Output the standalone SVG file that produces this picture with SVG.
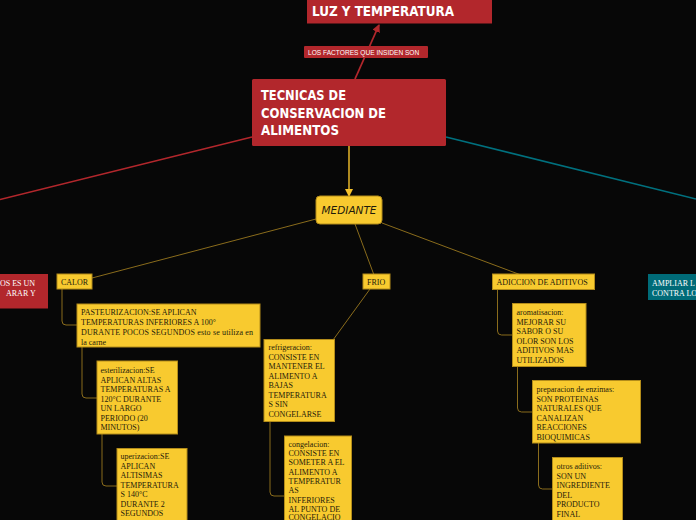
<svg xmlns="http://www.w3.org/2000/svg" width="696" height="520" viewBox="0 0 696 520">
<style>
.bg{fill:#070707}
.red{fill:#b2272c}
.teal{fill:#006b78}
.ybox{fill:#f8ca2f;stroke:#b38c1a;stroke-width:1}
.title{font-family:"DejaVu Sans",Verdana,sans-serif;font-weight:bold;font-size:13.5px;fill:#ffffff}
.lbl{font-family:"Liberation Sans",Arial,sans-serif;font-size:6.6px;fill:#ffffff}
.t{font-family:"Liberation Serif","Times New Roman",serif;font-size:8px;fill:#1e1a0a}
.w{font-family:"Liberation Serif","Times New Roman",serif;font-size:8px;fill:#ffffff}
.med{font-family:"DejaVu Sans",sans-serif;font-style:italic;font-size:10.5px;fill:#1e1a0a}
.conn{fill:none;stroke:#8a6c1c;stroke-width:1}
</style>
<defs>
<marker id="ar" markerWidth="8" markerHeight="8" refX="7" refY="4" orient="auto" markerUnits="userSpaceOnUse">
<path d="M0,0 L8,4 L0,8 Z" fill="#b2272c"/>
</marker>
<marker id="ay" markerWidth="8" markerHeight="8" refX="7" refY="4" orient="auto" markerUnits="userSpaceOnUse">
<path d="M0,0 L8,4 L0,8 Z" fill="#f5c22b"/>
</marker>
</defs>
<rect class="bg" x="0" y="0" width="696" height="520"/>

<g id="connectors">
<line x1="252" y1="137" x2="0" y2="199.5" stroke="#b2272c" stroke-width="1.6"/>
<line x1="446" y1="137" x2="696" y2="199" stroke="#00707e" stroke-width="1.6"/>
<line x1="355" y1="79" x2="379" y2="25" stroke="#b2272c" stroke-width="1.8" marker-end="url(#ar)"/>
<line x1="349" y1="146" x2="349" y2="196" stroke="#f5c22b" stroke-width="1.4" marker-end="url(#ay)"/>
<line class="conn" x1="316" y1="219" x2="92" y2="278"/>
<line class="conn" x1="355" y1="224" x2="374" y2="275"/>
<line class="conn" x1="382" y1="223" x2="521" y2="275"/>
<line class="conn" x1="370" y1="289" x2="333" y2="340"/>
<path class="conn" d="M62,289 V321 Q62,325 66,325 H77"/>
<path class="conn" d="M82,347 V394 Q82,398 86,398 H97"/>
<path class="conn" d="M102,434 V482 Q102,486 106,486 H117"/>
<path class="conn" d="M270,421 V492 Q270,496 274,496 H284"/>
<path class="conn" d="M497.5,290 V331 Q497.5,335 501.5,335 H512"/>
<path class="conn" d="M517.5,367 V408 Q517.5,412 521.5,412 H532"/>
<path class="conn" d="M538.5,443 V485 Q538.5,489 542.5,489 H552"/>
</g>

<g id="top-node">
<rect class="red" x="307" y="-10" width="185" height="33.5"/>
<text class="title" x="312" y="16" textLength="142" lengthAdjust="spacingAndGlyphs">LUZ Y TEMPERATURA</text>
</g>

<g id="label-factores">
<rect class="red" x="304" y="46" width="124" height="12" rx="1"/>
<text class="lbl" x="308" y="54.5">LOS FACTORES QUE INSIDEN SON</text>
</g>

<g id="central">
<rect class="red" x="252" y="79" width="194" height="67" rx="1.5"/>
<text class="title" x="261" y="100" textLength="85" lengthAdjust="spacingAndGlyphs">TECNICAS DE</text>
<text class="title" x="261" y="118" textLength="125" lengthAdjust="spacingAndGlyphs">CONSERVACION DE</text>
<text class="title" x="261" y="135" textLength="78" lengthAdjust="spacingAndGlyphs">ALIMENTOS</text>
</g>

<g id="mediante">
<rect x="316" y="196" width="66" height="28" rx="4" fill="#f8ca2f" stroke="#b38c1a"/>
<text class="med" x="349" y="213.5" text-anchor="middle">MEDIANTE</text>
</g>

<g id="left-node">
<rect class="red" x="-5" y="274" width="53" height="34.5"/>
<text class="w" x="0" y="286">OS ES UN</text>
<text class="w" x="6" y="296">ARAR Y</text>
</g>

<g id="right-node">
<rect class="teal" x="648" y="274" width="60" height="26"/>
<text class="w" x="652" y="286">AMPLIAR L</text>
<text class="w" x="652" y="296">CONTRA LO</text>
</g>

<g id="calor">
<rect class="ybox" x="57" y="274" width="35" height="15"/>
<text class="t" x="61" y="285">CALOR</text>
</g>

<g id="frio">
<rect class="ybox" x="363" y="274" width="27" height="15"/>
<text class="t" x="367" y="285">FRIO</text>
</g>

<g id="adiccion">
<rect class="ybox" x="492.5" y="274" width="102" height="15.5"/>
<text class="t" x="496.5" y="285">ADICCION DE ADITIVOS</text>
</g>

<g id="pasteurizacion">
<rect class="ybox" x="77" y="304" width="183" height="43"/>
<text class="t" x="81" y="315">PASTEURIZACION:SE APLICAN</text>
<text class="t" x="81" y="325">TEMPERATURAS INFERIORES A 100°</text>
<text class="t" x="81" y="335" textLength="172">DURANTE POCOS SEGUNDOS esto se utiliza en</text>
<text class="t" x="81" y="344.5">la carne</text>
</g>

<g id="esterilizacion">
<rect class="ybox" x="97" y="361" width="80.5" height="73"/>
<text class="t" x="100.5" y="373">esterilizacion:SE</text>
<text class="t" x="100.5" y="382.5">APLICAN ALTAS</text>
<text class="t" x="100.5" y="392">TEMPERATURAS A</text>
<text class="t" x="100.5" y="401.5">120°C DURANTE</text>
<text class="t" x="100.5" y="411">UN LARGO</text>
<text class="t" x="100.5" y="420.5">PERIODO (20</text>
<text class="t" x="100.5" y="430">MINUTOS)</text>
</g>

<g id="uperizacion">
<rect class="ybox" x="117" y="448.5" width="70" height="80"/>
<text class="t" x="120.5" y="459">uperizacion:SE</text>
<text class="t" x="120.5" y="468.5">APLICAN</text>
<text class="t" x="120.5" y="478">ALTISIMAS</text>
<text class="t" x="120.5" y="487.5">TEMPERATURA</text>
<text class="t" x="120.5" y="497">S 140°C</text>
<text class="t" x="120.5" y="506.5">DURANTE 2</text>
<text class="t" x="120.5" y="516">SEGUNDOS</text>
</g>

<g id="refrigeracion">
<rect class="ybox" x="264" y="339.5" width="70.5" height="82"/>
<text class="t" x="268.5" y="350">refrigeracion:</text>
<text class="t" x="268.5" y="359.5">CONSISTE EN</text>
<text class="t" x="268.5" y="369">MANTENER EL</text>
<text class="t" x="268.5" y="378.5">ALIMENTO A</text>
<text class="t" x="268.5" y="388">BAJAS</text>
<text class="t" x="268.5" y="397.5">TEMPERATURA</text>
<text class="t" x="268.5" y="407">S SIN</text>
<text class="t" x="268.5" y="416.5">CONGELARSE</text>
</g>

<g id="congelacion">
<rect class="ybox" x="284.5" y="436" width="67" height="95"/>
<text class="t" x="288.5" y="446.5">congelacion:</text>
<text class="t" x="288.5" y="456">CONSISTE EN</text>
<text class="t" x="288.5" y="465.3">SOMETER A EL</text>
<text class="t" x="288.5" y="474.6">ALIMENTO A</text>
<text class="t" x="288.5" y="483.9">TEMPERATUR</text>
<text class="t" x="288.5" y="493.2">AS</text>
<text class="t" x="288.5" y="502.5">INFERIORES</text>
<text class="t" x="288.5" y="511.8">AL  PUNTO DE</text>
<text class="t" x="288.5" y="519.5" font-size="7.2">CONGELACIO</text>
</g>

<g id="aromatisacion">
<rect class="ybox" x="512.5" y="303.5" width="73.5" height="63"/>
<text class="t" x="516.5" y="315">aromatisacion:</text>
<text class="t" x="516.5" y="324.5">MEJORAR SU</text>
<text class="t" x="516.5" y="334">SABOR O SU</text>
<text class="t" x="516.5" y="343.5">OLOR SON  LOS</text>
<text class="t" x="516.5" y="353">ADITIVOS MAS</text>
<text class="t" x="516.5" y="362.5">UTILIZADOS</text>
</g>

<g id="preparacion">
<rect class="ybox" x="532.5" y="380.5" width="108" height="62.5"/>
<text class="t" x="536.5" y="392">preparacion de enzimas:</text>
<text class="t" x="536.5" y="401.5">SON PROTEINAS</text>
<text class="t" x="536.5" y="411">NATURALES QUE</text>
<text class="t" x="536.5" y="420.5">CANALIZAN</text>
<text class="t" x="536.5" y="430">REACCIONES</text>
<text class="t" x="536.5" y="439.5">BIOQUIMICAS</text>
</g>

<g id="otros-aditivos">
<rect class="ybox" x="552.5" y="457.5" width="70" height="70"/>
<text class="t" x="556.5" y="469">otros aditivos:</text>
<text class="t" x="556.5" y="478.5">SON UN</text>
<text class="t" x="556.5" y="488">INGREDIENTE</text>
<text class="t" x="556.5" y="497.5">DEL</text>
<text class="t" x="556.5" y="507">PRODUCTO</text>
<text class="t" x="556.5" y="516.5">FINAL</text>
</g>
</svg>
